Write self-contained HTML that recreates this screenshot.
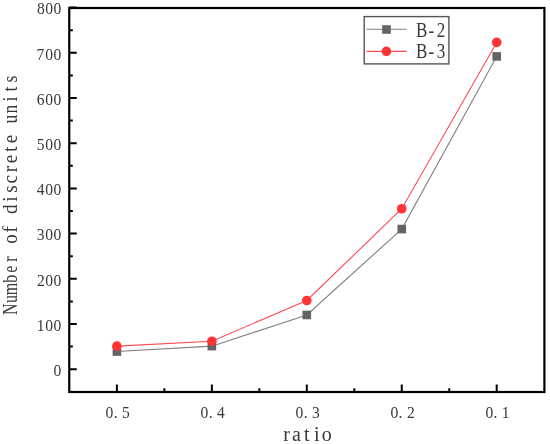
<!DOCTYPE html><html><head><meta charset="utf-8"><style>html,body{margin:0;padding:0;background:#fff;width:550px;height:444px;overflow:hidden}svg{display:block}text{font-family:"Liberation Serif","Noto Serif CJK SC",serif;fill:#383838}</style></head><body>
<svg width="550" height="444" viewBox="0 0 550 444">
<rect width="550" height="444" fill="#fff"/>
<path d="M69.25 369.20H76.75M69.25 324.00H76.75M69.25 278.80H76.75M69.25 233.60H76.75M69.25 188.40H76.75M69.25 143.20H76.75M69.25 98.00H76.75M69.25 52.80H76.75M69.25 7.60H76.75M69.25 346.60H72.85M69.25 301.40H72.85M69.25 256.20H72.85M69.25 211.00H72.85M69.25 165.80H72.85M69.25 120.60H72.85M69.25 75.40H72.85M69.25 30.20H72.85M116.90 392.00V384.40M211.85 392.00V384.40M306.80 392.00V384.40M401.75 392.00V384.40M496.70 392.00V384.40M164.38 392.00V388.20M259.33 392.00V388.20M354.28 392.00V388.20M449.23 392.00V388.20" stroke="#000" stroke-width="2.0" fill="none"/>
<rect x="69.25" y="8.0" width="475.15" height="384.00" fill="none" stroke="#000" stroke-width="2.2"/>
<text transform="scale(0.9 1)" x="59.45" y="376.00" font-size="17.3">0</text>
<text transform="scale(0.9 1)" x="40.77 50.23 59.45" y="330.80" font-size="17.3">100</text>
<text transform="scale(0.9 1)" x="41.11 50.23 59.45" y="285.60" font-size="17.3">200</text>
<text transform="scale(0.9 1)" x="40.93 50.23 59.45" y="240.40" font-size="17.3">300</text>
<text transform="scale(0.9 1)" x="40.97 50.23 59.45" y="195.20" font-size="17.3">400</text>
<text transform="scale(0.9 1)" x="40.84 50.23 59.45" y="150.00" font-size="17.3">500</text>
<text transform="scale(0.9 1)" x="40.89 50.23 59.45" y="104.80" font-size="17.3">600</text>
<text transform="scale(0.9 1)" x="40.69 50.23 59.45" y="59.60" font-size="17.3">700</text>
<text transform="scale(0.9 1)" x="41.01 50.23 59.45" y="14.40" font-size="17.3">800</text>
<text transform="scale(0.9 1)" x="117.34 126.39 135.51" y="417.70" font-size="17.3">0.5</text>
<text transform="scale(0.9 1)" x="222.84 231.89 241.14" y="417.70" font-size="17.3">0.4</text>
<text transform="scale(0.9 1)" x="328.34 337.39 346.60" y="417.70" font-size="17.3">0.3</text>
<text transform="scale(0.9 1)" x="433.84 442.89 452.27" y="417.70" font-size="17.3">0.2</text>
<text transform="scale(0.9 1)" x="539.34 548.39 557.43" y="417.70" font-size="17.3">0.1</text>
<text transform="scale(1.0 1)" x="283.31 292.10 303.93 313.95 321.75" y="441.00" font-size="20">ratio</text>
<text transform="rotate(-90) scale(0.8 1)" x="-393.66 -378.84 -369.21 -353.49 -340.86 -327.32" y="17.00" font-size="20">Number</text>
<text transform="rotate(-90) scale(0.95 1)" x="-256.68 -244.80" y="17.00" font-size="20">of</text>
<text transform="rotate(-90) scale(0.95 1)" x="-225.34 -212.38 -202.99 -193.04 -181.44 -171.96 -159.76 -150.90" y="17.00" font-size="20">discrete</text>
<text transform="rotate(-90) scale(0.88 1)" x="-140.30 -129.06 -115.41 -104.07 -93.83" y="17.00" font-size="20">units</text>
<polyline points="116.90,351.57 211.85,346.15 306.80,314.96 401.75,229.08 496.70,56.42" fill="none" stroke="#808080" stroke-width="1.1"/>
<rect x="112.60" y="347.27" width="8.6" height="8.6" fill="#646464"/>
<rect x="207.55" y="341.85" width="8.6" height="8.6" fill="#646464"/>
<rect x="302.50" y="310.66" width="8.6" height="8.6" fill="#646464"/>
<rect x="397.45" y="224.78" width="8.6" height="8.6" fill="#646464"/>
<rect x="492.40" y="52.12" width="8.6" height="8.6" fill="#646464"/>
<polyline points="116.90,346.15 211.85,341.18 306.80,300.50 401.75,208.74 496.70,42.40" fill="none" stroke="#ff4a55" stroke-width="1.1"/>
<circle cx="116.90" cy="346.15" r="4.8" fill="#ff3434"/>
<circle cx="211.85" cy="341.18" r="4.8" fill="#ff3434"/>
<circle cx="306.80" cy="300.50" r="4.8" fill="#ff3434"/>
<circle cx="401.75" cy="208.74" r="4.8" fill="#ff3434"/>
<circle cx="496.70" cy="42.40" r="4.8" fill="#ff3434"/>
<rect x="364.2" y="16.6" width="84.7" height="47.3" fill="#fff" stroke="#555" stroke-width="1.4"/>
<path d="M366.5 29.2H406.7" stroke="#808080" stroke-width="1.1"/>
<rect x="382.2" y="25.2" width="8.6" height="8.6" fill="#646464"/>
<path d="M366.5 51.4H406.7" stroke="#ff4a55" stroke-width="1.1"/>
<circle cx="386.4" cy="51.4" r="4.8" fill="#ff3434"/>
<text transform="scale(0.85 1)" x="489.41 504.07 513.94" y="36.60" font-size="20">B-2</text>
<text transform="scale(0.85 1)" x="489.41 504.07 513.74" y="58.10" font-size="20">B-3</text>
</svg></body></html>
